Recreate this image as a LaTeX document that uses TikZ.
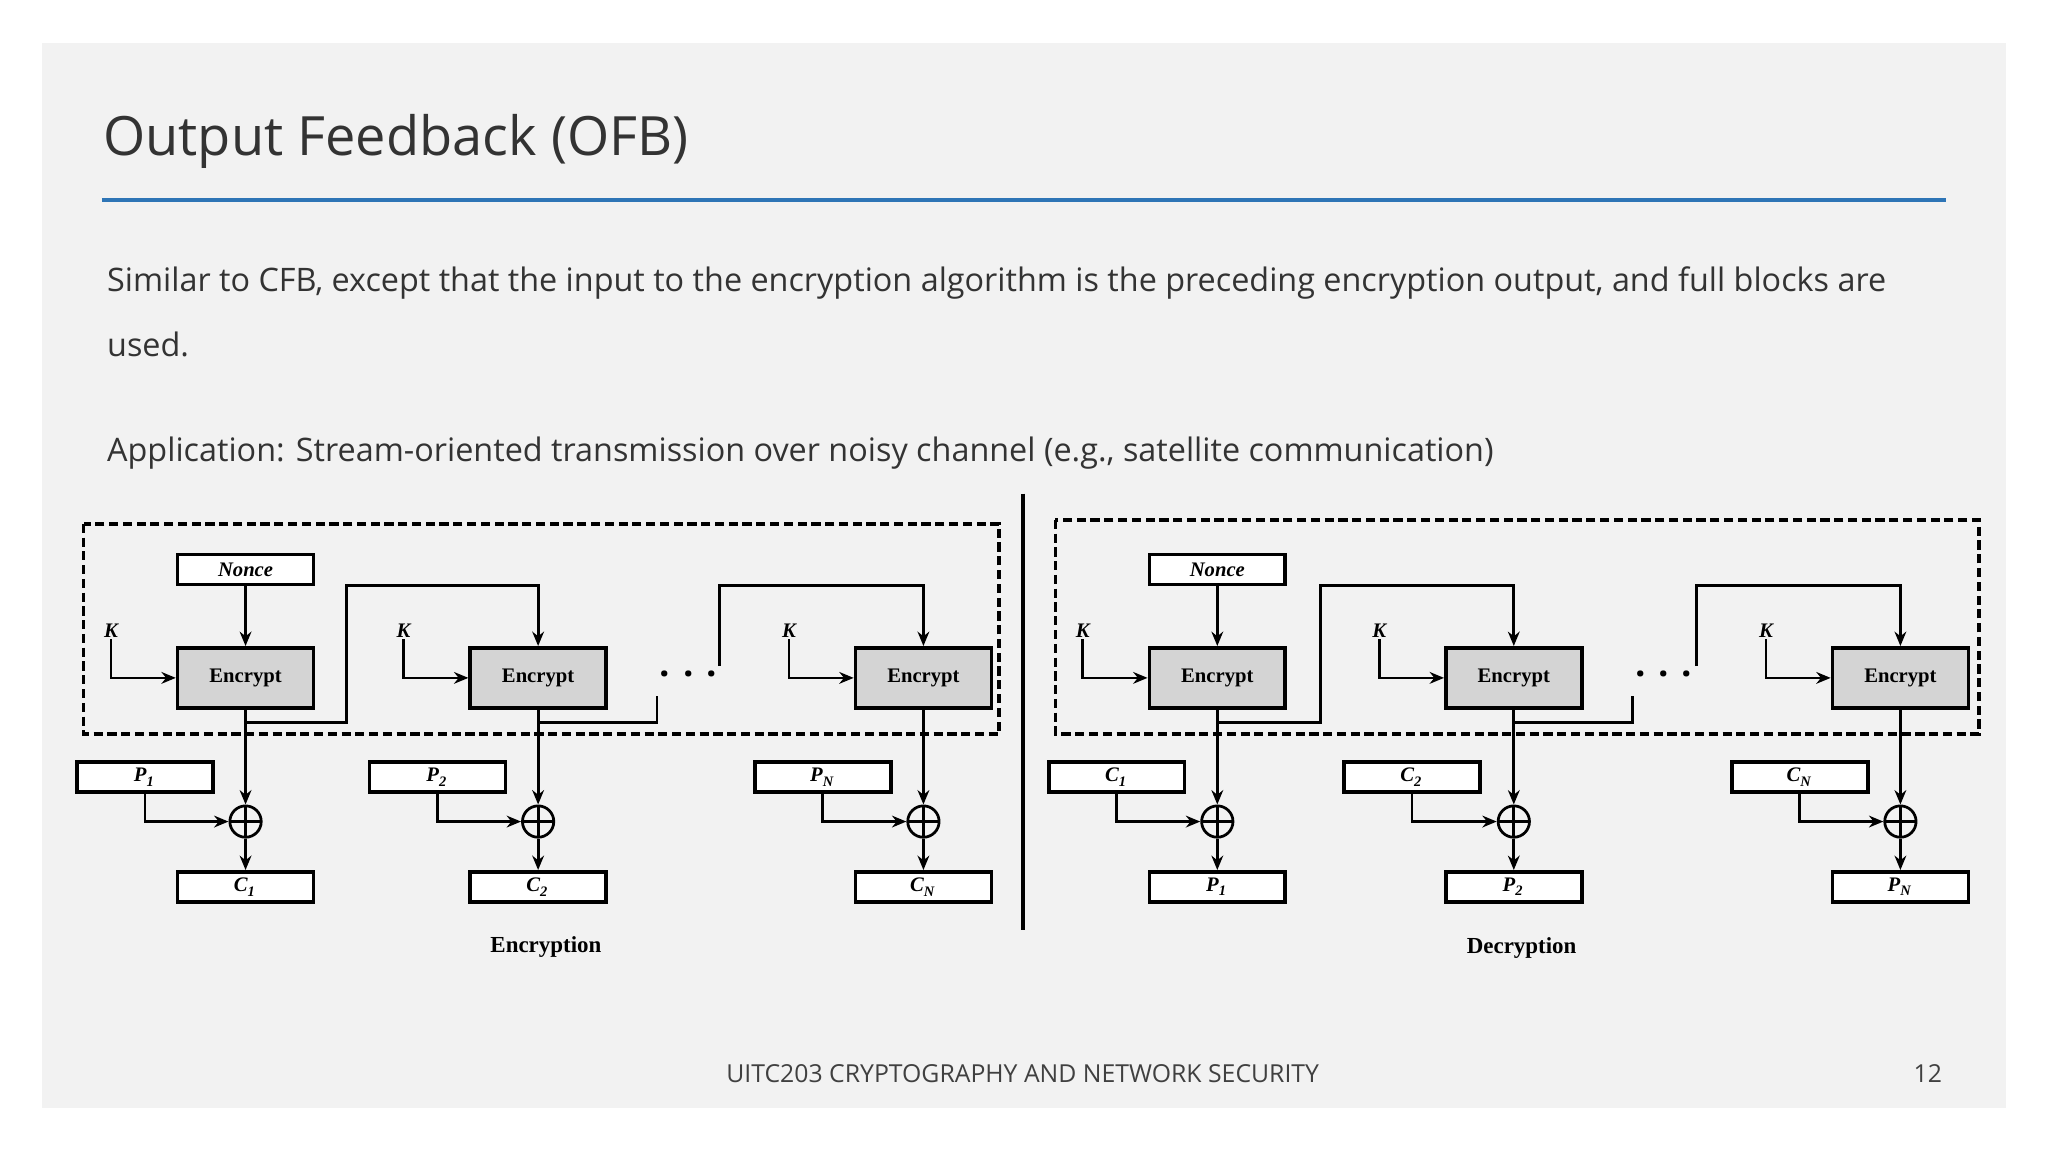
\documentclass[tikz,border=0pt]{standalone}
\usepackage{fontspec}
\setmainfont{Open Sans}
\newfontfamily\dfont{Liberation Serif}
\usetikzlibrary{arrows.meta}
\definecolor{panel}{HTML}{F2F2F2}
\definecolor{rule}{HTML}{2E75B6}
\definecolor{boxgray}{HTML}{D4D4D4}
\tikzset{
  enc/.style={draw,thick,fill=boxgray,minimum width=10.4mm,minimum height=4.6mm,inner sep=0pt,
    font=\dfont\bfseries\fontsize{4.5}{5}\selectfont},
  blk/.style={draw,thick,fill=white,minimum width=10.4mm,minimum height=2.3mm,inner sep=0pt,
    font=\dfont\bfseries\itshape\fontsize{4.5}{5}\selectfont},
  xor/.style={circle,draw,semithick,minimum size=2.4mm,inner sep=0pt,
    path picture={\draw (path picture bounding box.north) -- (path picture bounding box.south)
      (path picture bounding box.west) -- (path picture bounding box.east);}},
  lbl/.style={font=\dfont\bfseries\itshape\fontsize{4.5}{5}\selectfont,inner sep=0pt},
  frame/.style={thick,dash pattern=on 2pt off 1pt},
  body/.style={anchor=west,inner sep=0pt,font=\fontsize{7.05}{9}\selectfont,text=black!80}
}
\begin{document}
\begin{tikzpicture}[x=0.1mm,y=-0.1mm,>={Stealth[length=1.1mm,width=0.9mm]},semithick]
  \useasboundingbox (0,0) rectangle (1568,882);
  \fill[white] (0,0) rectangle (1568,882);
  \fill[panel] (32,33) rectangle (1536,848);
  \node[anchor=west,inner sep=0pt,font=\fontsize{11.8}{14}\selectfont,text=black!80] (title) at (78,108) {Output Feedback (OFB)};
  \draw[rule,line width=0.9pt] (78,153) -- (1490,153);
  \node[body] (t1) at (81,217) {Similar to CFB, except that the input to the encryption algorithm is the preceding encryption output, and full blocks are};
  \node[body] (t2) at (81,264) {used.};
  \node[body] (t3) at (81,347) {Application: Stream-oriented transmission over noisy channel (e.g., satellite communication)};

  % dashed frames and divider
  \draw[frame] (64,401) rectangle (765,562);
  \draw[frame] (808,398) rectangle (1515,562);
  \draw[thick] (783,378) -- (783,712);

  % stages
  \foreach \s/\i/\x/\px/\a/\b in {e/1/188/111/P\textsubscript{1}/C\textsubscript{1}, e/2/412/335/P\textsubscript{2}/C\textsubscript{2}, e/3/707/630/P\textsubscript{N}/C\textsubscript{N},
                                  d/1/932/855/C\textsubscript{1}/P\textsubscript{1}, d/2/1159/1081/C\textsubscript{2}/P\textsubscript{2}, d/3/1455/1378/C\textsubscript{N}/P\textsubscript{N}}{
    \node[enc] (\s E\i) at (\x,519) {Encrypt};
    \node[blk] (\s P\i) at (\px,595) {\a};
    \node[xor] (\s X\i) at (\x,629) {};
    \node[blk] (\s C\i) at (\x,679) {\b};
    \node[lbl] (\s K\i) at (\x-103,483) {K};
    \draw[->] (\s K\i) |- (\s E\i);
    \draw[->] (\s E\i) -- (\s X\i);
    \draw[->] (\s X\i) -- (\s C\i);
    \draw[->] (\s P\i) |- (\s X\i);
  }

  % nonce and feedback, encryption
  \node[blk] (eN) at (188,436) {Nonce};
  \draw[->] (eN) -- (eE1);
  \coordinate (eF1) at (188,553);
  \coordinate (eF2) at (412,553);
  \coordinate (eG1) at (503,533);
  \coordinate (eG2) at (551,510);
  \node[font=\bfseries\fontsize{8}{9}\selectfont] (edots) at (527,516) {. . .};
  \draw[->] (eF1) -| (265,448) -| (eE2.north);
  \draw (eF2) -| (eG1);
  \draw[->] (eG2) |- (707,448) -- (eE3.north);

  % nonce and feedback, decryption
  \node[blk] (dN) at (932,436) {Nonce};
  \draw[->] (dN) -- (dE1);
  \coordinate (dF1) at (932,553);
  \coordinate (dF2) at (1159,553);
  \coordinate (dG1) at (1250,533);
  \coordinate (dG2) at (1299,510);
  \node[font=\bfseries\fontsize{8}{9}\selectfont] (ddots) at (1274,516) {. . .};
  \draw[->] (dF1) -| (1011,448) -| (dE2.north);
  \draw (dF2) -| (dG1);
  \draw[->] (dG2) |- (1455,448) -- (dE3.north);

  \node[font=\dfont\bfseries\fontsize{5}{6}\selectfont] (encl) at (418,725) {Encryption};
  \node[font=\dfont\bfseries\fontsize{5}{6}\selectfont] (decl) at (1165,726) {Decryption};
  \node[font=\fontsize{5.4}{6}\selectfont,text=black!75] (foot) at (783,822) {UITC203 CRYPTOGRAPHY AND NETWORK SECURITY};
  \node[font=\fontsize{5.4}{6}\selectfont,text=black!75] (page) at (1476,822) {12};
\end{tikzpicture}
\end{document}
